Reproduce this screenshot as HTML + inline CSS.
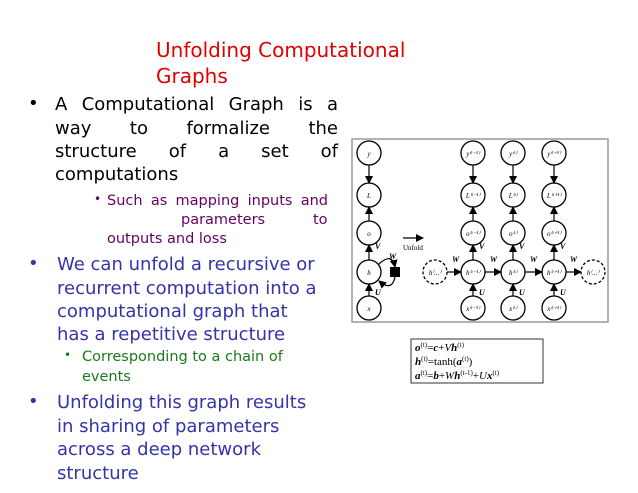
<!DOCTYPE html>
<html><head><meta charset="utf-8"><style>
body{margin:0;width:638px;height:493px;background:#fff;position:relative;overflow:hidden;font-family:"DejaVu Sans","Liberation Sans",sans-serif}
.l{position:absolute;white-space:nowrap;line-height:1}
.j{text-align:justify;text-align-last:justify;white-space:normal}
.b{font-size:18px}
.s{font-size:14.5px}
</style></head><body>
<div class="l" style="left:156px;top:40px;font-size:20px;color:#e00000">Unfolding Computational</div>
<div class="l" style="left:156px;top:66px;font-size:20px;color:#e00000">Graphs</div>

<div class="l" style="left:28px;top:95px;font-size:18px">•</div>
<div class="l b j" style="left:55px;top:96px;width:283px">A Computational Graph is a</div>
<div class="l b j" style="left:55px;top:120px;width:283px">way to formalize the</div>
<div class="l b j" style="left:55px;top:143px;width:283px">structure of a set of</div>
<div class="l b" style="left:55px;top:166px">computations</div>

<div class="l" style="left:94px;top:193px;font-size:12px;color:#660066">•</div>
<div class="l s j" style="left:107px;top:194px;width:221px;color:#660066">Such as mapping inputs and</div>
<div class="l s" style="left:181px;top:213px;color:#660066">parameters</div>
<div class="l s" style="left:313px;top:213px;color:#660066">to</div>
<div class="l s" style="left:107px;top:232px;color:#660066">outputs and loss</div>

<div class="l" style="left:28px;top:255px;font-size:18px;color:#3333aa">•</div>
<div class="l b" style="left:57px;top:256px;color:#3333aa">We can unfold a recursive or</div>
<div class="l b" style="left:57px;top:280px;color:#3333aa">recurrent computation into a</div>
<div class="l b" style="left:57px;top:303px;color:#3333aa">computational graph that</div>
<div class="l b" style="left:57px;top:326px;color:#3333aa">has a repetitive structure</div>

<div class="l" style="left:64px;top:349px;font-size:12px;color:#1a7a1a">•</div>
<div class="l s" style="left:82px;top:350px;color:#1a7a1a">Corresponding to a chain of</div>
<div class="l s" style="left:82px;top:370px;color:#1a7a1a">events</div>

<div class="l" style="left:28px;top:393px;font-size:18px;color:#3333aa">•</div>
<div class="l b" style="left:57px;top:394px;color:#3333aa">Unfolding this graph results</div>
<div class="l b" style="left:57px;top:418px;color:#3333aa">in sharing of parameters</div>
<div class="l b" style="left:57px;top:441px;color:#3333aa">across a deep network</div>
<div class="l b" style="left:57px;top:465px;color:#3333aa">structure</div>

<svg style="position:absolute;left:0;top:0" width="638" height="493" font-family="Liberation Serif,serif">
<defs><marker id="a" markerWidth="8" markerHeight="8" refX="7" refY="4" orient="auto" markerUnits="userSpaceOnUse"><path d="M0,0L8,4L0,8z" fill="#000"/></marker></defs>
<rect x="352" y="139" width="256" height="183" fill="none" stroke="#999" stroke-width="1.5"/>
<g stroke="#000" stroke-width="1.3" fill="#fff">
<circle cx="369" cy="153" r="12"/><circle cx="369" cy="195" r="12"/><circle cx="369" cy="233" r="12"/><circle cx="369" cy="272" r="12"/><circle cx="369" cy="308" r="12"/>
<g id="col"><circle cx="473" cy="153" r="12"/><circle cx="473" cy="195" r="12"/><circle cx="473" cy="233" r="12"/><circle cx="473" cy="272" r="12"/><circle cx="473" cy="308" r="12"/></g>
<use href="#col" x="40"/><use href="#col" x="81"/>
<circle cx="435" cy="272" r="12" stroke-dasharray="3,2"/><circle cx="593" cy="272" r="12" stroke-dasharray="3,2"/>
</g>
<rect x="390" y="267" width="10" height="10" fill="#000"/>
<g stroke="#000" stroke-width="1.2" fill="none" marker-end="url(#a)">
<line x1="369" y1="165" x2="369" y2="183"/><line x1="369" y1="221" x2="369" y2="207"/><line x1="369" y1="260" x2="369" y2="245"/><line x1="369" y1="296" x2="369" y2="284"/>
<path d="M379,264 Q392,252 395,267"/><path d="M395,277 Q392,292 379,281"/>
<line x1="403" y1="238" x2="423" y2="238"/>
<g id="ar"><line x1="473" y1="165" x2="473" y2="183"/><line x1="473" y1="221" x2="473" y2="207"/><line x1="473" y1="260" x2="473" y2="245"/><line x1="473" y1="296" x2="473" y2="284"/></g>
<use href="#ar" x="40"/><use href="#ar" x="81"/>
<line x1="447" y1="272" x2="461" y2="272"/><line x1="485" y1="272" x2="501" y2="272"/><line x1="525" y1="272" x2="542" y2="272"/><line x1="566" y1="272" x2="581" y2="272"/>
</g>
<g font-size="7" font-style="italic" text-anchor="middle">
<text x="369" y="156">y</text><text x="369" y="198">L</text><text x="369" y="236">o</text><text x="369" y="275">h</text><text x="369" y="311">x</text>
<text x="473" y="156">y⁽ᵗ⁻¹⁾</text><text x="513" y="156">y⁽ᵗ⁾</text><text x="554" y="156">y⁽ᵗ⁺¹⁾</text>
<text x="473" y="198">L⁽ᵗ⁻¹⁾</text><text x="513" y="198">L⁽ᵗ⁾</text><text x="554" y="198">L⁽ᵗ⁺¹⁾</text>
<text x="473" y="236">o⁽ᵗ⁻¹⁾</text><text x="513" y="236">o⁽ᵗ⁾</text><text x="554" y="236">o⁽ᵗ⁺¹⁾</text>
<text x="473" y="275">h⁽ᵗ⁻¹⁾</text><text x="513" y="275">h⁽ᵗ⁾</text><text x="554" y="275">h⁽ᵗ⁺¹⁾</text>
<text x="473" y="311">x⁽ᵗ⁻¹⁾</text><text x="513" y="311">x⁽ᵗ⁾</text><text x="554" y="311">x⁽ᵗ⁺¹⁾</text>
<text x="435" y="275">h⁽...⁾</text><text x="593" y="275">h⁽...⁾</text>
</g>
<g font-size="8" font-style="italic" font-weight="bold">
<text x="375" y="249">V</text><text x="375" y="295">U</text><text x="389" y="259">W</text>
<text x="479" y="249">V</text><text x="519" y="249">V</text><text x="560" y="249">V</text>
<text x="479" y="295">U</text><text x="519" y="295">U</text><text x="560" y="295">U</text>
<text x="452" y="262">W</text><text x="490" y="262">W</text><text x="530" y="262">W</text><text x="570" y="262">W</text>
</g>
<text x="403" y="250" font-size="7">Unfold</text>
<rect x="411" y="339" width="132" height="44" fill="none" stroke="#333" stroke-width="1"/>
<g font-size="11">
<text x="415" y="351"><tspan font-weight="bold" font-style="italic">o</tspan><tspan font-size="7" dy="-4">(t)</tspan><tspan dy="4">=</tspan><tspan font-weight="bold" font-style="italic">c</tspan>+<tspan font-style="italic">V</tspan><tspan font-weight="bold" font-style="italic">h</tspan><tspan font-size="7" dy="-4">(t)</tspan></text>
<text x="415" y="365"><tspan font-weight="bold" font-style="italic">h</tspan><tspan font-size="7" dy="-4">(t)</tspan><tspan dy="4">=tanh(</tspan><tspan font-weight="bold" font-style="italic">a</tspan><tspan font-size="7" dy="-4">(t)</tspan><tspan dy="4">)</tspan></text>
<text x="415" y="379"><tspan font-weight="bold" font-style="italic">a</tspan><tspan font-size="7" dy="-4">(t)</tspan><tspan dy="4">=</tspan><tspan font-weight="bold" font-style="italic">b</tspan>+<tspan font-style="italic">W</tspan><tspan font-weight="bold" font-style="italic">h</tspan><tspan font-size="7" dy="-4">(t-1)</tspan><tspan dy="4">+</tspan><tspan font-style="italic">U</tspan><tspan font-weight="bold" font-style="italic">x</tspan><tspan font-size="7" dy="-4">(t)</tspan></text>
</g>
</svg>
</body></html>
